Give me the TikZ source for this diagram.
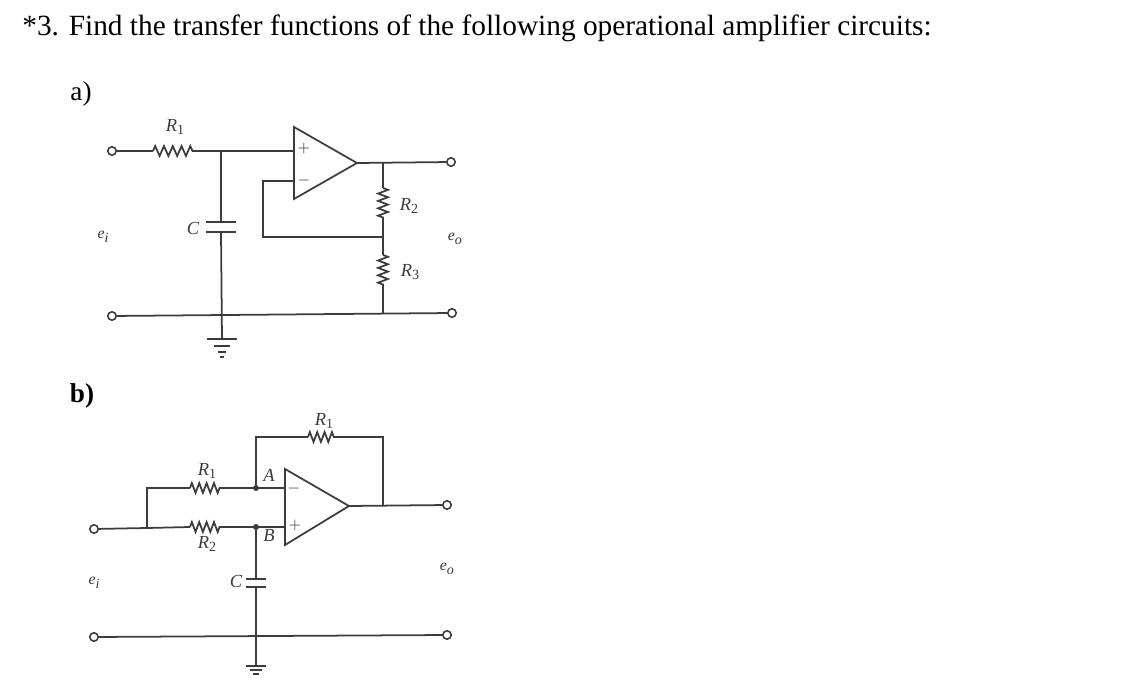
\documentclass[tikz,border=0pt]{standalone}
\usepackage{fontspec}
\setmainfont{Liberation Serif}
\usetikzlibrary{decorations.pathmorphing}
\definecolor{inkgray}{RGB}{60,60,60}
\newcommand{\lowtxt}[1]{\raisebox{-2pt}{\fontsize{8}{8}\selectfont #1}}
\tikzset{
  wire/.style={inkgray,line width=1pt},
  res/.style={wire,decorate,decoration={zigzag,amplitude=2.8pt,segment length=4.2pt}},
  reswide/.style={wire,decorate,decoration={zigzag,amplitude=2.8pt,segment length=5pt}},
  term/.style={circle,draw=inkgray,line width=0.9pt,fill=white,inner sep=0pt,minimum size=4.8pt},
  dotnode/.style={circle,fill=inkgray,inner sep=0pt,minimum size=3.4pt},
  lab/.style={inkgray,font=\fontsize{10.5}{11}\selectfont,inner sep=0pt},
  elab/.style={inkgray,font=\fontsize{9}{10}\selectfont,inner sep=0pt},
  sgn/.style={inkgray,font=\fontsize{9}{10}\selectfont,inner sep=0pt}
}
\begin{document}
\begin{tikzpicture}[x=0.02cm,y=-0.02cm]
  \useasboundingbox (0,0) rectangle (1130,686);
  \fill[white] (0,0) rectangle (1130,686);

  %heading
  \node[anchor=base west,inner sep=0pt,font=\fontsize{16.7}{18}\selectfont] (title) at (22,36) {*3. Find the transfer functions of the following operational amplifier circuits:};
  \node[inner sep=0pt,font=\fontsize{15.5}{18}\selectfont] (parta) at (81,94) {a)};
  \node[inner sep=0pt,font=\fontsize{15.5}{18}\bfseries] (partb) at (82,396) {b)};

  %circuit a: points
  \foreach \x/\y/\name in {153/151/ar1l,195/151/ar1r,221/151/ajn,294/151/aplus,294/127/atop,294/199/abot,357/163/aout,
      294/181/aminus,263/181/afbt,263/237/afbb,383/237/amid,383/163/atap,383/188/ar2t,383/218/ar2b,383/255/ar3t,383/287/ar3b,
      383/314/agr,221/222/acapt,221/232/acapb,206/222/ac1l,236/222/ac1r,206/232/ac2l,236/232/ac2r,222/315/agn,222/339/agnd}{
    \coordinate (\name) at (\x,\y);
  }
  \foreach \x/\y/\name in {112/151/ain,451/162/aoutt,112/316/aing,452/313/aoutg}{
    \node[term] (\name) at (\x,\y) {};
  }

  %circuit a: wires
  \draw[wire] (ain) -- (ar1l);
  \draw[reswide] (ar1l) -- (ar1r);
  \draw[wire] (ar1r) -- (aplus);
  \draw[wire,line join=miter] (atop) -- (abot) -- (aout) -- cycle;
  \draw[wire] (aout) -- (aoutt);
  \draw[wire] (aminus) -- (afbt) -- (afbb) -- (amid);
  \draw[wire] (atap) -- (ar2t);
  \draw[res] (ar2t) -- (ar2b);
  \draw[wire] (ar2b) -- (ar3t);
  \draw[res] (ar3t) -- (ar3b);
  \draw[wire] (ar3b) -- (agr);
  \draw[wire] (aing) -- (aoutg);
  \draw[wire] (ajn) -- (acapt);
  \draw[wire] (ac1l) -- (ac1r);
  \draw[wire] (ac2l) -- (ac2r);
  \draw[wire] (acapb) -- (agnd);
  \foreach \dy/\w in {0/15,7/8,13/4,18/2}{
    \draw[wire] ([shift={(-\w,\dy)}]agnd) -- ([shift={(\w,\dy)}]agnd);
  }

  %circuit a: labels
  \foreach \x/\y/\name/\txt/\low in {175/127/alr1/R/1,193/230/alc/C/,409/206/alr2/R/2,410/272/alr3/R/3}{
    \node[lab] (\name) at (\x,\y) {\textit{\txt}\lowtxt{\low}};
  }
  \node[elab] (alei) at (103,237) {\textit{e}\lowtxt{\textit{i}}};
  \node[elab] (aleo) at (455,239) {\textit{e}\lowtxt{\textit{o}}};
  \node[sgn] (aplsgn) at (304,149) {$+$};
  \node[sgn] (amnsgn) at (304,181) {$-$};

  %circuit b: points
  \foreach \x/\y/\name in {147/528/bsp,147/488/bup,190/488/br1l,220/488/br1r,190/527/br2l,220/527/br2r,285/488/bminus,285/527/bplus,
      285/469/btop,285/545/bbot,349/506/bout,256/437/bfbl,308/437/bfr1l,337/437/bfr1r,383/437/bfbr,383/506/bfbd,
      256/579/bcapt,256/587/bcapb,246/579/bc1l,266/579/bc1r,246/587/bc2l,266/587/bc2r,256/666/bgnd}{
    \coordinate (\name) at (\x,\y);
  }
  \foreach \x/\y/\name in {94/529/bin,447/505/boutt,94/637/bing,447/635/boutg}{
    \node[term] (\name) at (\x,\y) {};
  }
  \node[dotnode] (bA) at (256,488) {};
  \node[dotnode] (bB) at (256,527) {};

  %circuit b: wires
  \draw[wire] (bin) -- (bsp) -- (br2l);
  \draw[wire] (bsp) -- (bup) -- (br1l);
  \draw[res] (br1l) -- (br1r);
  \draw[res] (br2l) -- (br2r);
  \draw[wire] (br1r) -- (bminus);
  \draw[wire] (br2r) -- (bplus);
  \draw[wire,line join=miter] (btop) -- (bbot) -- (bout) -- cycle;
  \draw[wire] (bout) -- (boutt);
  \draw[wire] (bA) -- (bfbl) -- (bfr1l);
  \draw[res] (bfr1l) -- (bfr1r);
  \draw[wire] (bfr1r) -- (bfbr) -- (bfbd);
  \draw[wire] (bing) -- (boutg);
  \draw[wire] (bB) -- (bcapt);
  \draw[wire] (bc1l) -- (bc1r);
  \draw[wire] (bc2l) -- (bc2r);
  \draw[wire] (bcapb) -- (bgnd);
  \foreach \dy/\w in {0/10,4/6,8/3}{
    \draw[wire] ([shift={(-\w,\dy)}]bgnd) -- ([shift={(\w,\dy)}]bgnd);
  }

  %circuit b: labels
  \foreach \x/\y/\name/\txt/\low in {324/421/blr1/R/1,207/471/blr1b/R/1,207/544/blr2/R/2,269/477/bla/A/,269/537/blb/B/,236/583/blc/C/}{
    \node[lab] (\name) at (\x,\y) {\textit{\txt}\lowtxt{\low}};
  }
  \node[elab] (blei) at (94,583) {\textit{e}\lowtxt{\textit{i}}};
  \node[elab] (bleo) at (447,569) {\textit{e}\lowtxt{\textit{o}}};
  \node[sgn] (bmnsgn) at (294,489) {$-$};
  \node[sgn] (bplsgn) at (295,526) {$+$};
\end{tikzpicture}
\end{document}
